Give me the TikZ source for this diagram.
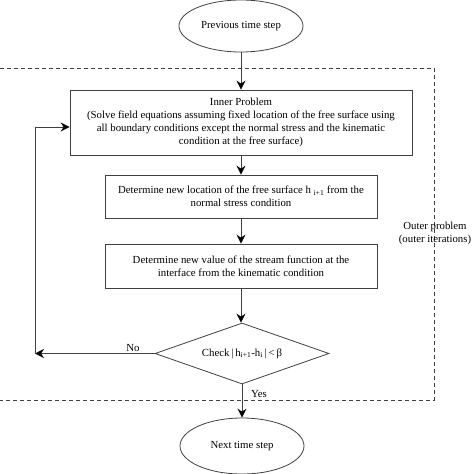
\documentclass[tikz,border=0pt]{standalone}
\usepackage{fontspec}
\setmainfont{Liberation Serif}
\usetikzlibrary{shapes.geometric,arrows.meta}
\begin{document}
\begin{tikzpicture}[x=1pt,y=-1pt,
  every node/.style={font=\fontsize{10.8}{13}\selectfont},
  line/.style={draw=black!75, line width=0.8pt},
  arr/.style={line, -{Stealth[length=9pt,width=9pt,inset=3pt,color=black]}},
  boxnode/.style={line, rectangle, align=center, inner sep=0pt},
  term/.style={line, ellipse, inner sep=0pt},
  dec/.style={line, diamond, inner sep=0pt, aspect=2.85},
  lbl/.style={inner sep=1pt}
]
\useasboundingbox (0,0) rectangle (474,474);
% outer dashed frame
\draw[draw=black!75, line width=0.8pt, dash pattern=on 4pt off 3pt] (-5,68) rectangle (434,400);

\node[term, minimum width=124pt, minimum height=52pt] (prev) at (241,26) {Previous time step};
\node[boxnode, minimum width=342pt, minimum height=65pt] (inner) at (241,122.5)
  {Inner Problem\\(Solve field equations assuming fixed location of the free surface using\\all boundary conditions except the normal stress and the kinematic\\condition at the free surface)};
\node[boxnode, minimum width=272pt, minimum height=43pt] (loc) at (241,196.5)
  {Determine new location of the free surface h \textsubscript{i+1} from the\\normal stress condition};
\node[boxnode, minimum width=272pt, minimum height=44pt] (stream) at (241,266)
  {Determine new value of the stream function at the\\interface from the kinematic condition};
\node[dec, minimum width=174pt, minimum height=61pt] (check) at (242,353.5)
  {Check\,|\,h\textsubscript{i+1}-h\textsubscript{i}\,|\,<\,β};
\node[term, minimum width=124pt, minimum height=56pt] (next) at (242,446) {Next time step};

\coordinate (noend) at (35,353.5);
\coordinate (fbtop) at (35,127);

\draw[arr] (prev) -- (inner);
\draw[arr] (inner) -- (loc);
\draw[arr] (loc) -- (stream);
\draw[arr] (stream.south) -- (stream.south |- check.north);
\draw[arr] (check.south) -- (check.south |- next.north);
\draw[arr] (check.west) -- (noend);
\draw[arr] (noend) -- (fbtop) -- (fbtop -| inner.west);

\node[lbl] (no) at (133,348) {No};
\node[lbl] (yes) at (259,394) {Yes};
\node[lbl, align=center] (outer) at (435,233) {Outer problem\\(outer iterations)};
\end{tikzpicture}
\end{document}
